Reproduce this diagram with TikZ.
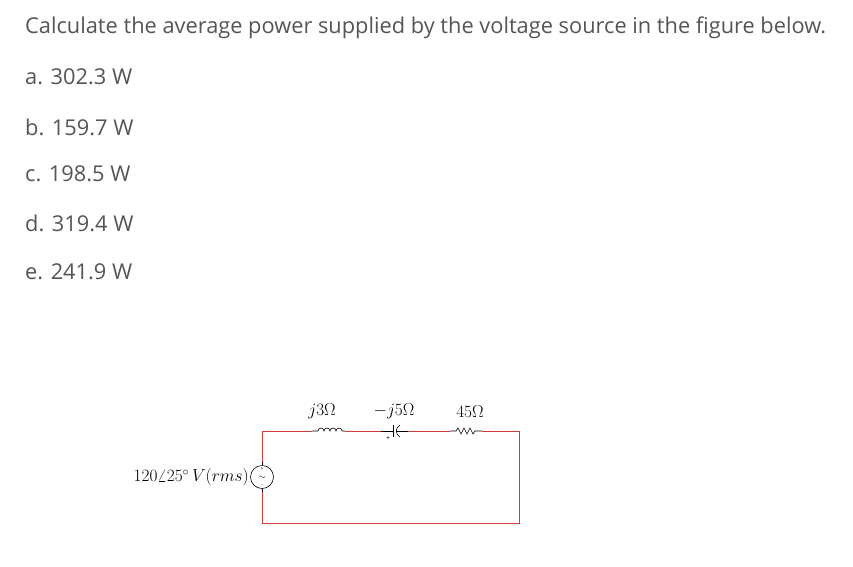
\documentclass[tikz,border=0pt]{standalone}
\usepackage{fontspec}
\setmainfont{Open Sans}
\definecolor{txtgray}{HTML}{555555}
\definecolor{wirered}{HTML}{D63A3A}
\begin{document}
\begin{tikzpicture}[x=1pt,y=-1pt,
    qtext/.style={anchor=west,text=txtgray,font=\fontsize{21.8}{25}\selectfont,inner sep=0pt},
    wire/.style={wirered,line width=0.8pt},
    part/.style={black,line width=0.6pt},
    lbl/.style={font=\fontsize{18}{20}\selectfont,inner sep=0pt}]
  \useasboundingbox (0,0) rectangle (853,566);
  \fill[white] (0,0) rectangle (853,566);

  % question and answers
  \node[qtext] (q) at (25,28) {Calculate the average power supplied by the voltage source in the figure below.};
  \node[qtext] (a) at (25,77) {a. 302.3 W};
  \node[qtext] (b) at (25,127) {b. 159.7 W};
  \node[qtext] (c) at (25,174) {c. 198.5 W};
  \node[qtext] (d) at (25,223) {d. 319.4 W};
  \node[qtext] (e) at (25,272) {e. 241.9 W};

  % corners and terminals
  \coordinate (tl) at (262,431);
  \coordinate (tr) at (519,431);
  \coordinate (br) at (519,523);
  \coordinate (bl) at (262,523);
  \coordinate (l1) at (312,431);
  \coordinate (l2) at (345,431);
  \coordinate (c1) at (381,431);
  \coordinate (c2) at (408,431);
  \coordinate (r1) at (450,431);
  \coordinate (r2) at (482,431);

  % source
  \node[circle,draw,line width=0.6pt,minimum size=23pt,inner sep=0pt] (src) at (262,477) {};
  \node[font=\small,inner sep=0pt] (wave) at (262,478) {$\sim$};
  \node[font=\tiny,inner sep=0pt] (plus) at (262,469) {+};
  \node[font=\tiny,inner sep=0pt] (minus) at (262,486) {-};
  \node[lbl,anchor=east] (vs) at (249,477) {$120\angle 25^\circ\,V(rms)$};

  % wires
  \draw[wire] (262,462) -- (tl) -- (l1);
  \draw[wire] (l2) -- (c1);
  \draw[wire] (c2) -- (r1);
  \draw[wire] (r2) -- (tr) -- (br) -- (bl) -- (262,492);
  \draw[part] (262,462) -- (src.north);
  \draw[part] (262,492) -- (src.south);

  % inductor
  \draw[part] (l1) -- (318,431)
    \foreach \k in {0,1,2,3} { arc[start angle=180,end angle=360,radius=3] }
    -- (l2);
  % capacitor
  \draw[part] (c1) -- (393,431) (393,425) -- (393,437);
  \draw[part] (400,425) .. controls (395,428) and (395,434) .. (400,437);
  \draw[part] (396,431) -- (c2);
  \node[font=\scriptsize,inner sep=0pt] (cplus) at (388,438) {+};
  % resistor
  \draw[part] (r1) -- (456,431) -- (458,428) -- (461,434) -- (464,428) -- (467,434) -- (470,428) -- (473,434) -- (475,431) -- (r2);

  % labels
  \node[lbl] (lj3) at (322,411) {$j3\Omega$};
  \node[lbl] (lj5) at (394,411) {$-j5\Omega$};
  \node[lbl] (l45) at (470,412) {$45\Omega$};
\end{tikzpicture}
\end{document}
